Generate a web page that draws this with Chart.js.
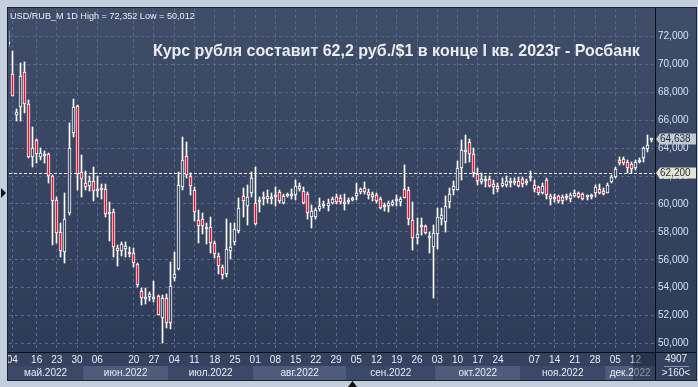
<!DOCTYPE html>
<html>
<head>
<meta charset="utf-8">
<script src="https://cdn.jsdelivr.net/npm/chart.js@4.4.0/dist/chart.umd.min.js"></script>
<style>
  html, body { margin: 0; padding: 0; background: #c3cfdc; }
  #wrap { width: 698px; height: 387px; }
</style>
</head>
<body>
<div id="wrap"><canvas id="chart" width="698" height="387"></canvas></div>
<script>
// USD/RUB daily candles, May - Dec 2022
const opens = [71.60,69.26,66.37,66.90,69.41,67.11,63.31,64.53,63.35,63.43,63.55,62.00,60.25,57.94,56.54,59.30,65.08,66.99,62.24,61.45,
  61.28,61.59,60.90,60.97,61.04,59.23,59.37,56.79,56.62,56.76,56.54,56.43,55.66,53.73,53.13,53.32,53.18,53.37,51.77,53.25,
  51.46,54.64,55.28,61.16,63.41,61.97,60.97,58.82,58.89,58.20,58.29,57.19,56.24,55.43,54.92,56.62,57.26,58.03,60.56,59.82,
  60.77,60.01,60.13,60.30,60.56,60.30,60.61,60.80,60.06,60.54,60.56,60.61,61.25,60.92,60.66,59.05,59.05,59.61,59.82,59.82,
  60.01,60.49,60.42,60.01,60.13,60.25,60.54,60.85,61.13,60.80,60.68,60.61,60.30,59.89,59.82,59.86,60.16,60.13,61.02,60.97,
  58.80,57.56,58.34,58.39,57.51,56.86,57.79,58.87,58.70,60.13,60.97,60.97,62.57,63.67,64.39,63.55,62.11,61.56,61.61,61.76,
  61.40,61.25,61.25,61.33,61.49,61.45,61.61,61.76,61.49,61.81,61.33,61.16,60.77,61.68,60.54,60.32,60.54,60.44,60.37,60.30,
  60.56,60.77,60.66,60.44,60.49,60.73,61.02,60.92,60.77,61.56,61.92,63.12,63.17,63.00,62.83,62.52,62.95,63.28,63.89,64.55];
const highs = [72.35,70.93,66.75,70.09,70.17,67.42,65.46,64.60,63.98,63.79,63.62,62.05,60.44,58.58,60.73,65.75,67.49,67.05,63.48,62.33,
  62.00,62.64,62.00,61.40,61.40,60.09,59.61,57.03,57.26,57.26,56.90,56.79,55.71,53.92,53.92,53.68,54.44,53.44,53.44,53.51,
  55.83,56.54,62.24,64.79,64.39,62.16,61.20,59.54,59.30,58.62,59.01,57.33,56.43,55.59,58.87,58.58,58.58,60.37,61.09,61.33,
  62.28,62.64,60.44,60.85,60.97,60.77,61.16,60.97,60.70,60.77,61.02,61.68,61.49,61.16,60.85,59.89,59.70,60.37,60.18,60.30,
  60.49,60.68,60.61,60.66,60.42,60.49,61.45,61.13,61.52,61.02,60.80,60.77,60.49,60.01,60.18,60.25,60.61,60.49,62.76,61.16,
  60.13,58.94,58.94,58.46,57.98,58.46,59.66,59.66,60.52,61.09,61.61,63.07,64.55,64.91,64.60,63.96,62.52,62.21,61.97,61.97,
  61.68,61.49,61.81,61.97,61.81,61.81,61.88,61.92,61.76,62.33,61.68,61.25,61.45,61.81,60.68,60.68,60.61,60.61,60.66,60.77,
  60.97,60.85,60.73,60.61,60.66,61.33,61.38,61.09,61.45,62.04,62.64,63.31,63.36,63.12,63.00,63.12,63.24,64.07,64.91,64.72];
const lows = [71.24,67.70,65.94,65.94,66.47,63.28,62.59,62.88,63.12,62.88,61.49,57.03,57.15,56.14,55.76,59.20,64.79,60.97,60.44,60.97,
  60.90,60.20,60.47,60.30,59.01,57.29,56.19,55.52,56.24,56.14,56.19,55.43,54.04,52.72,52.80,53.03,52.96,51.98,50.01,51.05,
  50.98,54.47,55.20,61.00,61.80,60.61,58.77,57.15,57.82,57.10,56.47,56.11,54.92,54.59,54.75,56.02,57.00,57.86,59.01,58.47,
  60.49,58.45,59.41,59.89,60.01,59.96,59.84,60.01,59.96,60.49,60.30,60.25,60.92,59.96,58.87,58.22,58.90,59.46,59.66,59.46,
  59.96,59.96,59.96,59.54,59.96,60.20,60.25,60.66,60.66,60.30,60.20,60.01,59.58,59.46,59.41,59.82,59.82,59.82,60.42,58.47,
  56.67,57.10,57.74,57.82,56.47,53.20,56.74,58.45,57.94,59.66,60.61,60.97,61.68,62.88,62.95,61.92,61.33,61.40,61.16,61.16,
  60.66,60.85,61.16,61.16,61.16,61.33,61.16,61.16,61.33,61.61,60.85,60.61,60.68,60.30,59.89,60.13,60.06,59.96,60.25,60.13,
  60.49,60.37,60.25,60.25,60.32,60.49,60.68,60.61,60.73,61.45,61.81,62.76,62.76,62.21,62.21,62.40,62.88,63.00,63.71,64.39];
const closes = [71.40,67.73,66.56,69.14,67.11,63.31,63.96,63.55,63.60,63.50,62.00,60.20,57.86,56.62,58.87,63.96,66.90,62.09,61.73,61.16,
  61.61,60.93,61.06,61.13,59.23,59.37,56.90,56.57,57.10,56.95,56.38,55.76,54.16,53.25,53.27,53.51,53.32,52.00,53.20,51.46,
  54.11,54.95,61.33,63.12,62.04,61.28,59.41,58.39,58.41,58.30,57.15,56.38,55.54,54.87,56.74,56.86,58.15,59.70,60.18,60.49,
  61.81,58.51,60.18,60.44,60.30,60.47,60.44,60.20,60.52,60.68,60.65,61.25,61.02,60.06,59.30,59.46,59.54,59.84,59.94,60.06,
  60.30,60.13,60.13,59.94,60.25,60.42,60.73,61.02,60.80,60.61,60.49,60.20,59.66,59.73,60.06,60.10,60.25,60.34,60.42,58.87,
  57.51,57.79,58.39,57.91,57.55,57.91,59.05,59.18,59.82,60.68,61.25,62.52,63.84,63.84,63.55,62.16,61.61,61.76,61.68,61.28,
  61.16,61.04,61.49,61.61,61.61,61.61,61.28,61.40,61.61,61.97,61.02,60.77,61.25,60.61,60.30,60.49,60.18,60.20,60.54,60.61,
  60.77,60.49,60.32,60.54,60.61,61.16,60.77,60.68,61.33,61.92,62.45,62.88,62.92,62.52,62.47,62.95,63.05,64.00,64.19,64.64];

// week labels under the axis (candle index -> day of month)
const tickIdx = [1,7,12,17,22,31,36,41,46,51,56,61,66,71,76,81,86,91,96,101,106,111,116,121,130,135,140,145,150,155];
const tickText = ['04','16','23','30','06','20','27','04','11','18','25','01','08','15','22','29','05','12','19','26','03','10','17','24','07','14','21','28','05','12'];

// months: first candle of each month
const monthNames = ['май.2022','июн.2022','июл.2022','авг.2022','сен.2022','окт.2022','ноя.2022','дек.2022'];
const monthStart = [0,19,40,61,84,106,127,148];

const priceTicks = [50,52,54,56,58,60,62,64,66,68,70,72];
const forecast = 62.2;
const lastPrice = 64.638;

const FONT = '"Liberation Sans", Arial, sans-serif';
const TOP_RGB = [63, 77, 105], BOT_RGB = [44, 58, 88];

function bgAt(y) {
  const t = Math.min(1, Math.max(0, (y - 8) / 372));
  const c = TOP_RGB.map((a, k) => Math.round(a + (BOT_RGB[k] - a) * t));
  return 'rgb(' + c.join(',') + ')';
}

// approximate y pixel for a price (only used to tint hollow bodies)
function approxY(v) { return 343 - (v - 50) * 13.95; }

const wickData = highs.map((h, i) => ({x: i, y: [lows[i], h]}));
const bodyData = opens.map((o, i) => ({x: i, y: [Math.min(o, closes[i]), Math.max(o, closes[i])]}));
const bodyColors = opens.map((o, i) => closes[i] < o ? '#e3112c' : bgAt(approxY((o + closes[i]) / 2)));

function fitFont(ctx, text, weight, size, width) {
  ctx.font = weight + ' ' + size + 'px ' + FONT;
  const w = ctx.measureText(text).width;
  return weight + ' ' + (size * width / w).toFixed(2) + 'px ' + FONT;
}

// snap candle rectangles to whole pixels so wicks stay 1px sharp
const snapPlugin = {
  id: 'snap',
  afterDatasetsUpdate(chart) {
    chart.data.datasets.forEach((ds, d) => {
      chart.getDatasetMeta(d).data.forEach(el => {
        el.x = Math.floor(el.x) + 0.5;
        el.y = Math.round(el.y);
        el.base = Math.round(el.base);
      });
    });
  }
};

const terminalPlugin = {
  id: 'terminal',
  beforeDraw(chart) {
    const ctx = chart.ctx;
    const xs = chart.scales.x, ys = chart.scales.y;
    const area = chart.chartArea;
    ctx.save();
    ctx.fillStyle = '#c3cfdc';
    ctx.fillRect(0, 0, 698, 387);

    const g = ctx.createLinearGradient(0, 8, 0, 380);
    g.addColorStop(0, bgAt(8));
    g.addColorStop(1, bgAt(380));
    ctx.fillStyle = g;
    ctx.fillRect(8, 8, 688, 372);

    // date row + month bands
    ctx.fillStyle = '#34425f';
    ctx.fillRect(8, 352, 688, 28);
    ctx.save();
    ctx.beginPath();
    ctx.rect(8, 352, 647, 28);
    ctx.clip();
    monthNames.forEach((m, k) => {
      const x0 = xs.getPixelForValue(monthStart[k] - 0.5);
      const x1 = k + 1 < monthStart.length ? xs.getPixelForValue(monthStart[k + 1] - 0.5) : 655;
      ctx.fillStyle = k % 2 ? '#4e5b7a' : '#3b4867';
      ctx.fillRect(Math.max(8, x0), 366, Math.min(655, x1) - Math.max(8, x0), 14);
    });
    ctx.restore();

    // grid
    ctx.strokeStyle = '#566a8c';
    ctx.lineWidth = 1;
    ctx.setLineDash([3, 3]);
    priceTicks.forEach(v => {
      const y = Math.round(ys.getPixelForValue(v)) + 0.5;
      ctx.beginPath();
      ctx.moveTo(area.left, y);
      ctx.lineTo(area.right, y);
      ctx.stroke();
    });
    tickIdx.forEach(i => {
      const x = Math.floor(xs.getPixelForValue(i)) + 0.5;
      ctx.beginPath();
      ctx.moveTo(x, area.top);
      ctx.lineTo(x, area.bottom);
      ctx.stroke();
    });
    ctx.restore();
  },
  beforeDatasetsDraw(chart) {
    const ctx = chart.ctx;
    const area = chart.chartArea;
    const y = Math.round(chart.scales.y.getPixelForValue(forecast)) + 0.5;
    ctx.save();
    ctx.strokeStyle = '#f2f2f2';
    ctx.setLineDash([3, 2]);
    ctx.beginPath();
    ctx.moveTo(area.left, y);
    ctx.lineTo(area.right, y);
    ctx.stroke();
    ctx.restore();
  },
  afterDatasetsDraw(chart) {
    const ctx = chart.ctx;
    const xs = chart.scales.x, ys = chart.scales.y;
    ctx.save();

    // header + title
    ctx.fillStyle = '#e9eef7';
    ctx.textBaseline = 'alphabetic';
    ctx.textAlign = 'left';
    const header = 'USD/RUB_M 1D High = 72,352 Low = 50,012';
    ctx.font = fitFont(ctx, header, 'normal', 10, 185);
    ctx.fillText(header, 10, 18.5);
    const title = 'Курс рубля составит 62,2 руб./$1 в конце I кв. 2023г - Росбанк';
    ctx.fillStyle = '#ecedf2';
    ctx.font = fitFont(ctx, title, 'bold', 15, 487);
    ctx.fillText(title, 153, 56);

    // right axis
    ctx.font = '10px ' + FONT;
    ctx.fillStyle = '#d3e1f5';
    ctx.textBaseline = 'middle';
    priceTicks.forEach(v => {
      ctx.fillText(v.toFixed(3).replace('.', ','), 658, ys.getPixelForValue(v) + 0.5);
    });

    // price tags
    const tag = (v, fill) => {
      const y = Math.round(ys.getPixelForValue(v));
      ctx.fillStyle = fill;
      ctx.beginPath();
      ctx.moveTo(656, y);
      ctx.lineTo(660, y - 5.5);
      ctx.lineTo(696, y - 5.5);
      ctx.lineTo(696, y + 5.5);
      ctx.lineTo(660, y + 5.5);
      ctx.closePath();
      ctx.fill();
      ctx.fillStyle = '#1c2a44';
      ctx.fillText(v.toFixed(3).replace('.', ','), 660, y + 0.5);
    };
    tag(lastPrice, '#c3c8d1');
    tag(forecast, '#e6e6cf');

    // dates and months
    ctx.save();
    ctx.beginPath();
    ctx.rect(8, 352, 647, 28);
    ctx.clip();
    ctx.fillStyle = '#e6ecf6';
    ctx.textAlign = 'center';
    tickIdx.forEach((i, k) => {
      ctx.fillText(tickText[k], xs.getPixelForValue(i), 360);
    });
    monthNames.forEach((m, k) => {
      const x0 = Math.max(8, xs.getPixelForValue(monthStart[k] - 0.5));
      const x1 = k + 1 < monthStart.length ? xs.getPixelForValue(monthStart[k + 1] - 0.5) : 655;
      ctx.fillText(m, (x0 + Math.min(655, x1)) / 2, 373);
    });
    ctx.fillStyle = 'rgba(25, 35, 55, 0.45)';
    ctx.fillRect(633, 352, 22, 28);
    ctx.restore();

    // corner box
    ctx.textAlign = 'center';
    ctx.fillStyle = '#e6ecf6';
    ctx.fillText('4907', 676, 359.5);
    ctx.fillText('>160<', 676, 373);
    ctx.strokeStyle = '#8a96aa';
    ctx.beginPath();
    ctx.moveTo(664, 366.5);
    ctx.lineTo(689, 366.5);
    ctx.stroke();

    // separators and frame
    ctx.strokeStyle = '#0a0e16';
    ctx.lineWidth = 1;
    ctx.beginPath();
    ctx.moveTo(655.5, 8); ctx.lineTo(655.5, 380);
    ctx.moveTo(8, 352.5); ctx.lineTo(696, 352.5);
    ctx.stroke();
    ctx.strokeStyle = '#1a2233';
    ctx.strokeRect(7.5, 7.5, 689, 373);

    // little markers on the outer frame
    ctx.fillStyle = '#111';
    ctx.beginPath();
    ctx.moveTo(1, 188); ctx.lineTo(6, 193); ctx.lineTo(1, 198);
    ctx.closePath();
    ctx.fill();
    ctx.beginPath();
    ctx.moveTo(348, 387); ctx.lineTo(352.5, 381); ctx.lineTo(357, 387);
    ctx.closePath();
    ctx.fill();
    ctx.restore();
  }
};

new Chart(document.getElementById('chart').getContext('2d'), {
  type: 'bar',
  data: {
    datasets: [{
      label: 'wick',
      data: wickData,
      backgroundColor: '#ffffff',
      borderWidth: 0,
      barThickness: 1,
      grouped: false,
      order: 2,
      clip: 0
    }, {
      label: 'body',
      data: bodyData,
      backgroundColor: bodyColors,
      borderColor: '#ffffff',
      borderWidth: 1,
      borderSkipped: false,
      barThickness: 3,
      minBarLength: 2,
      grouped: false,
      order: 1,
      clip: 0
    }]
  },
  options: {
    responsive: false,
    animation: false,
    devicePixelRatio: 1,
    events: [],
    layout: { padding: { left: 9, right: 43, top: 9, bottom: 35 } },
    scales: {
      x: { type: 'linear', min: 0.173, max: 159.8, offset: false, display: false },
      y: { min: 49.355, max: 73.94, display: false }
    },
    plugins: { legend: { display: false }, tooltip: { enabled: false } }
  },
  plugins: [snapPlugin, terminalPlugin]
});
</script>
</body>
</html>
